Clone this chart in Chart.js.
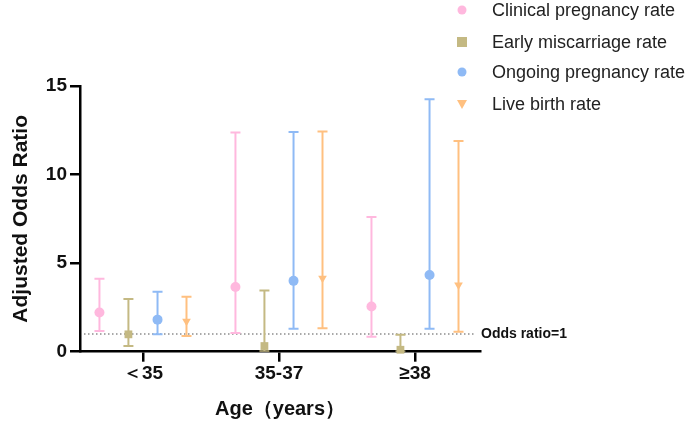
<!DOCTYPE html>
<html><head><meta charset="utf-8">
<script src="https://cdn.jsdelivr.net/npm/chart.js@4.4.1/dist/chart.umd.min.js"></script>
<style>html,body{margin:0;padding:0;background:#fff}#wrap{width:685px;height:425px}</style>
</head><body><div id="wrap"><canvas id="c"></canvas></div>
<script>
const categories = ['＜35', '35-37', '≥38'];
const seriesNames = ['Clinical pregnancy rate', 'Early miscarriage rate', 'Ongoing pregnancy rate', 'Live birth rate'];
const clinicalOR = [2.21, 3.65, 2.55];
const clinicalLo = [1.17, 1.06, 0.85];
const clinicalHi = [4.12, 12.37, 7.61];
const miscarriageOR = [0.98, 0.32, 0.11];
const miscarriageLo = [0.32, 0.03, 0.01];
const miscarriageHi = [2.97, 3.46, 0.95];
const ongoingOR = [1.81, 4.00, 4.33];
const ongoingLo = [0.98, 1.29, 1.29];
const ongoingHi = [3.38, 12.41, 14.25];
const liveOR = [1.72, 4.14, 3.76];
const liveLo = [0.89, 1.33, 1.13];
const liveHi = [3.10, 12.43, 11.90];
const yTicks = [0, 5, 10, 15];
const refValue = 1;

const FONT = 'Arial, "Liberation Sans", Helvetica, sans-serif';
const colors = ['#FFB8DE', '#C4B983', '#8FBAF5', '#FFC080'];
const shapes = ['circle', 'rect', 'circle', 'triangle'];
const offsets = [-0.32, -0.107, 0.107, 0.32];
const ors = [clinicalOR, miscarriageOR, ongoingOR, liveOR];
const los = [clinicalLo, miscarriageLo, ongoingLo, liveLo];
const his = [clinicalHi, miscarriageHi, ongoingHi, liveHi];

const datasets = seriesNames.map((name, s) => ({
  label: name,
  data: categories.map((c, i) => ({x: i + 1 + offsets[s], y: ors[s][i], lo: los[s][i], hi: his[s][i]})),
  backgroundColor: colors[s],
  borderColor: colors[s],
  pointStyle: shapes[s],
  pointRadius: s === 1 ? 5.5 : 5,
  pointRotation: s === 3 ? 180 : 0,
  pointBorderWidth: 0,
  clip: false
}));

const errorBars = {
  id: 'errorBars',
  beforeDatasetsDraw(chart) {
    const ctx = chart.ctx, xs = chart.scales.x, ys = chart.scales.y;
    const a = chart.chartArea;
    ctx.save();
    ctx.beginPath();
    ctx.rect(a.left, 0, a.right - a.left + 20, a.bottom);
    ctx.clip();
    ctx.setLineDash([1.5, 2.5]);
    ctx.strokeStyle = '#555';
    ctx.lineWidth = 1.2;
    const yr = ys.getPixelForValue(refValue);
    ctx.beginPath();
    ctx.moveTo(a.left + 4, yr);
    ctx.lineTo(a.right - 4, yr);
    ctx.stroke();
    ctx.setLineDash([]);
    chart.data.datasets.forEach((ds, s) => {
      ctx.strokeStyle = colors[s];
      ctx.lineWidth = 2;
      ds.data.forEach(p => {
        const x = xs.getPixelForValue(p.x);
        const y1 = ys.getPixelForValue(p.lo), y2 = ys.getPixelForValue(p.hi);
        ctx.beginPath();
        ctx.moveTo(x, y1); ctx.lineTo(x, y2);
        ctx.moveTo(x - 5, y1); ctx.lineTo(x + 5, y1);
        ctx.moveTo(x - 5, y2); ctx.lineTo(x + 5, y2);
        ctx.stroke();
      });
    });
    ctx.restore();
  },
  afterDraw(chart) {
    const ctx = chart.ctx, ys = chart.scales.y, a = chart.chartArea;
    ctx.save();
    ctx.fillStyle = '#111';
    ctx.font = 'bold 14px ' + FONT;
    ctx.textBaseline = 'middle';
    ctx.fillText('Odds ratio=1', a.right + 1, ys.getPixelForValue(refValue) + 0.5);
    ctx.font = '18px ' + FONT;
    const rows = [10, 42, 72, 104];
    seriesNames.forEach((n, s) => {
      const mx = 462, my = rows[s];
      ctx.fillStyle = colors[s];
      ctx.beginPath();
      if (s === 1) { ctx.rect(mx - 5, my - 5, 10, 10); }
      else if (s === 3) { ctx.moveTo(mx - 5, my - 4); ctx.lineTo(mx + 5, my - 4); ctx.lineTo(mx, my + 5); ctx.closePath(); }
      else { ctx.arc(mx, my, 4.5, 0, Math.PI * 2); }
      ctx.fill();
      ctx.fillStyle = '#222';
      ctx.fillText(n, 492, my + 1);
    });
    ctx.restore();
  }
};

new Chart(document.getElementById('c'), {
  type: 'scatter',
  data: {datasets},
  options: {
    responsive: true,
    maintainAspectRatio: false,
    animation: false,
    layout: {padding: {top: 86, right: 205, left: 0, bottom: 0}},
    plugins: {legend: {display: false}, tooltip: {enabled: false}},
    scales: {
      x: {
        type: 'linear', min: 0.537, max: 3.478,
        afterBuildTicks(sc) { sc.ticks = categories.map((c, i) => ({value: i + 1})); },
        afterFit(sc) { sc.height = 73.3; },
        ticks: {callback: (v) => categories[Math.round(v) - 1], color: '#111', padding: 1,
          font: {family: FONT, size: 19, weight: 'bold'}, maxRotation: 0},
        grid: {display: true, drawOnChartArea: false, drawTicks: true, tickLength: 10, color: '#000', lineWidth: 2.5},
        border: {display: true, color: '#000', width: 2.5},
        title: {display: true, text: 'Age（years）', color: '#111', padding: {top: 10},
          font: {family: FONT, size: 20, weight: 'bold'}}
      },
      y: {
        min: 0, max: 15,
        afterBuildTicks(sc) { sc.ticks = yTicks.map(v => ({value: v})); },
        afterFit(sc) { sc.width = 80; },
        ticks: {color: '#111', padding: 3,
          font: {family: FONT, size: 19, weight: 'bold'}},
        grid: {display: true, drawOnChartArea: false, drawTicks: true, tickLength: 10, color: '#000', lineWidth: 2.5},
        border: {display: true, color: '#000', width: 2.5},
        title: {display: true, text: 'Adjusted Odds Ratio', color: '#111', padding: {top: 9, bottom: 0},
          font: {family: FONT, size: 21, weight: 'bold'}}
      }
    }
  },
  plugins: [errorBars]
});
</script></body></html>
